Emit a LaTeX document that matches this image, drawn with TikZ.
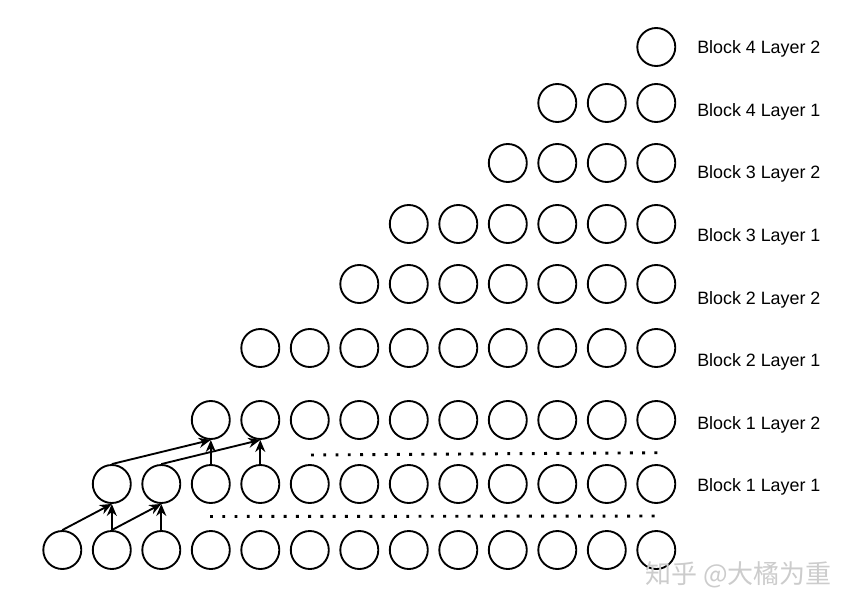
\documentclass[tikz,border=0pt]{standalone}
\usepackage{fontspec}
\setmainfont{Liberation Sans}
\newfontfamily\cjk{Noto Sans CJK SC}
\usetikzlibrary{positioning}
\usetikzlibrary{arrows.meta}

\begin{document}
\begin{tikzpicture}[x=0.75pt, y=-0.75pt,
                          unitnode/.style={circle, draw, line width=1.4pt, minimum size=28.5pt, inner sep=0pt},
                          blocklabel/.style={anchor=base west, inner sep=0pt, font=\fontsize{13.4}{16}\selectfont},
                          link/.style={-{Stealth[length=9pt, width=7.5pt]}, line width=1.4pt},
                          gapline/.style={line width=2.2pt, dash pattern=on 2.2pt off 7pt},
                      ]
                      \useasboundingbox (0,0) rectangle (852,610);

                      % Nodes
                      \foreach \r/\y/\s in {0/550/0, 1/484/1, 2/420/3, 3/348/4, 4/284/6, 5/224/7, 6/163/9, 7/103/10, 8/47/12}
                          \foreach \i in {\s,...,12}
                              \node[unitnode]     (c\r-\i)     at ({62.3+49.5*\i},\y)     {};

                      \node[blocklabel]       (b1l1)       at (697,491.5)       {Block 1 Layer 1};
                      \node[blocklabel]       (b1l2)       at (697,429)         {Block 1 Layer 2};
                      \node[blocklabel]       (b2l1)       at (697,366.5)       {Block 2 Layer 1};
                      \node[blocklabel]       (b2l2)       at (697,304)         {Block 2 Layer 2};
                      \node[blocklabel]       (b3l1)       at (697,241.5)       {Block 3 Layer 1};
                      \node[blocklabel]       (b3l2)       at (697,178)         {Block 3 Layer 2};
                      \node[blocklabel]       (b4l1)       at (697,116.5)       {Block 4 Layer 1};
                      \node[blocklabel]       (b4l2)       at (697,53.5)        {Block 4 Layer 2};

                      \node[anchor=west, inner sep=0pt, text=gray!40, font=\cjk\fontsize{19.5}{22}\selectfont]
                                              (mark)       at (645,575)         {知乎 @大橘为重};

                      % Dotted rows
                      \coordinate (gap0_start) at (210,516.5);
                      \coordinate (gap0_end)   at (657,516);
                      \coordinate (gap1_start) at (311,455);
                      \coordinate (gap1_end)   at (661,452.7);
                      \draw[gapline] (gap0_start) -- (gap0_end);
                      \draw[gapline] (gap1_start) -- (gap1_end);

                      %Lines
                      \draw[link] (c0-0.north) -- (c1-1.south);
                      \draw[link] (c0-1.north) -- (c1-1.south);
                      \draw[link] (c0-1.north) -- (c1-2.south);
                      \draw[link] (c0-2.north) -- (c1-2.south);
                      \draw[link] (c1-1.north) -- (c2-3.south);
                      \draw[link] (c1-3.north) -- (c2-3.south);
                      \draw[link] (c1-2.north) -- (c2-4.south);
                      \draw[link] (c1-4.north) -- (c2-4.south);
                  \end{tikzpicture}
\end{document}
